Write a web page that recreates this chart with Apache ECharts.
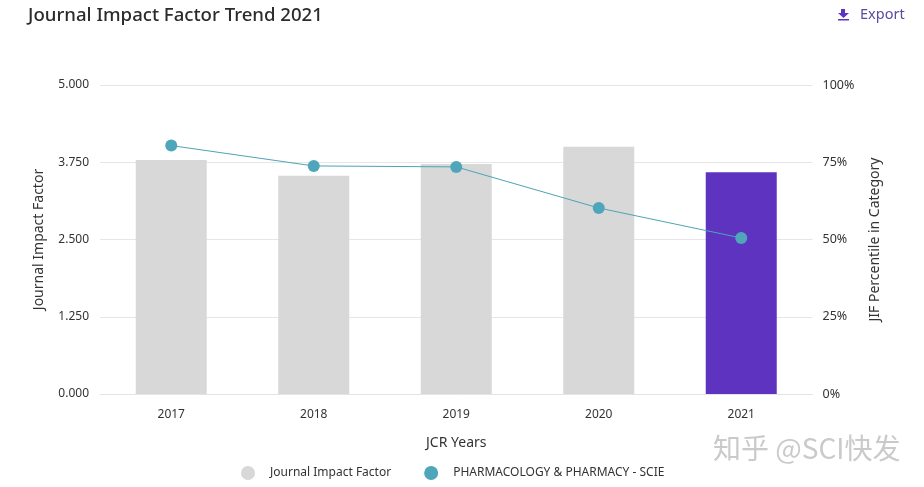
<!DOCTYPE html>
<html><head><meta charset="utf-8">
<style>html,body{margin:0;padding:0;background:#fff}#c{width:924px;height:487px}</style>
<script src="https://cdn.jsdelivr.net/npm/echarts@6/dist/echarts.min.js"></script>
</head><body><div id="c"></div>
<script>
const years = ['2017','2018','2019','2020','2021'];
const jif = [3.786,3.53,3.72,4.0,3.59];
const percentile = [80.4,73.8,73.5,60.2,50.5];
const font = '"Noto Sans", sans-serif';
const chart = echarts.init(document.getElementById('c'), null, {renderer:'canvas'});
const ink = '#333';
chart.setOption({
  animation:false,
  backgroundColor:'#fff',
  title:{text:'Journal Impact Factor Trend 2021',left:23,top:1,textStyle:{fontFamily:font,fontSize:18.6,fontWeight:500,color:'#2b2b2b'}},
  legend:{
    left:236,top:461,itemWidth:14,itemHeight:14,itemGap:33,icon:'circle',
    data:['Journal Impact Factor','PHARMACOLOGY & PHARMACY - SCIE'],
    textStyle:{fontFamily:font,fontSize:12,color:ink,padding:[0,0,0,10]}
  },
  grid:{left:100,right:111.5,top:85,bottom:93},
  xAxis:{type:'category',data:years,name:'JCR Years',nameLocation:'middle',nameGap:42,
    nameTextStyle:{fontFamily:font,fontSize:14,color:ink},
    axisTick:{show:false},axisLine:{lineStyle:{color:'#e4e4e4'}},
    axisLabel:{fontFamily:font,fontSize:12,color:ink,margin:15}},
  yAxis:[
    {type:'value',min:0,max:5,interval:1.25,name:'Journal Impact Factor',nameLocation:'middle',nameGap:54,nameRotate:90,
     nameTextStyle:{fontFamily:font,fontSize:14,color:ink,padding:[0,0,0,0]},
     axisLabel:{fontFamily:font,fontSize:12,color:ink,margin:11,padding:[3,0,0,0],formatter:v=>v.toFixed(3)},
     axisLine:{show:false},axisTick:{show:false},splitLine:{lineStyle:{color:'#e6e6e6'}}},
    {type:'value',min:0,max:100,interval:25,name:'JIF Percentile in Category',nameLocation:'middle',nameGap:56,
     nameTextStyle:{fontFamily:font,fontSize:14,color:ink},
     axisLabel:{fontFamily:font,fontSize:12.5,color:ink,margin:10,padding:[3,0,0,0],formatter:'{value}%'},
     axisLine:{show:false},axisTick:{show:false},splitLine:{show:false}}
  ],
  series:[
    {name:'Journal Impact Factor',type:'bar',barWidth:71,itemStyle:{color:'#d8d8d8'},
     data:jif.map((v,i)=>i===jif.length-1?{value:v,itemStyle:{color:'#5e33bf'}}:v)},
    {name:'PHARMACOLOGY & PHARMACY - SCIE',type:'line',yAxisIndex:1,data:percentile,
     symbol:'circle',symbolSize:12,lineStyle:{color:'#4fa3b5',width:1},itemStyle:{color:'#4fa6ba'}}
  ],
  graphic:[
    {type:'text',left:860,top:7,style:{text:'Export',fontFamily:font,fontSize:14.5,fill:'#5e4a9e'}},
    {type:'polygon',shape:{points:[[841,9],[845,9],[845,13],[849,13],[843.5,18],[838,13],[841,13]]},style:{fill:'#5e33bf'}},
    {type:'rect',shape:{x:838,y:19,width:11,height:1.5},style:{fill:'#5e33bf'}},
    {type:'text',left:713,top:434,style:{text:'知乎 @SCI快发',fontFamily:'"Noto Sans CJK SC"',fontSize:28,fill:'rgba(150,150,150,0.5)'}}
  ]
});
</script></body></html>
